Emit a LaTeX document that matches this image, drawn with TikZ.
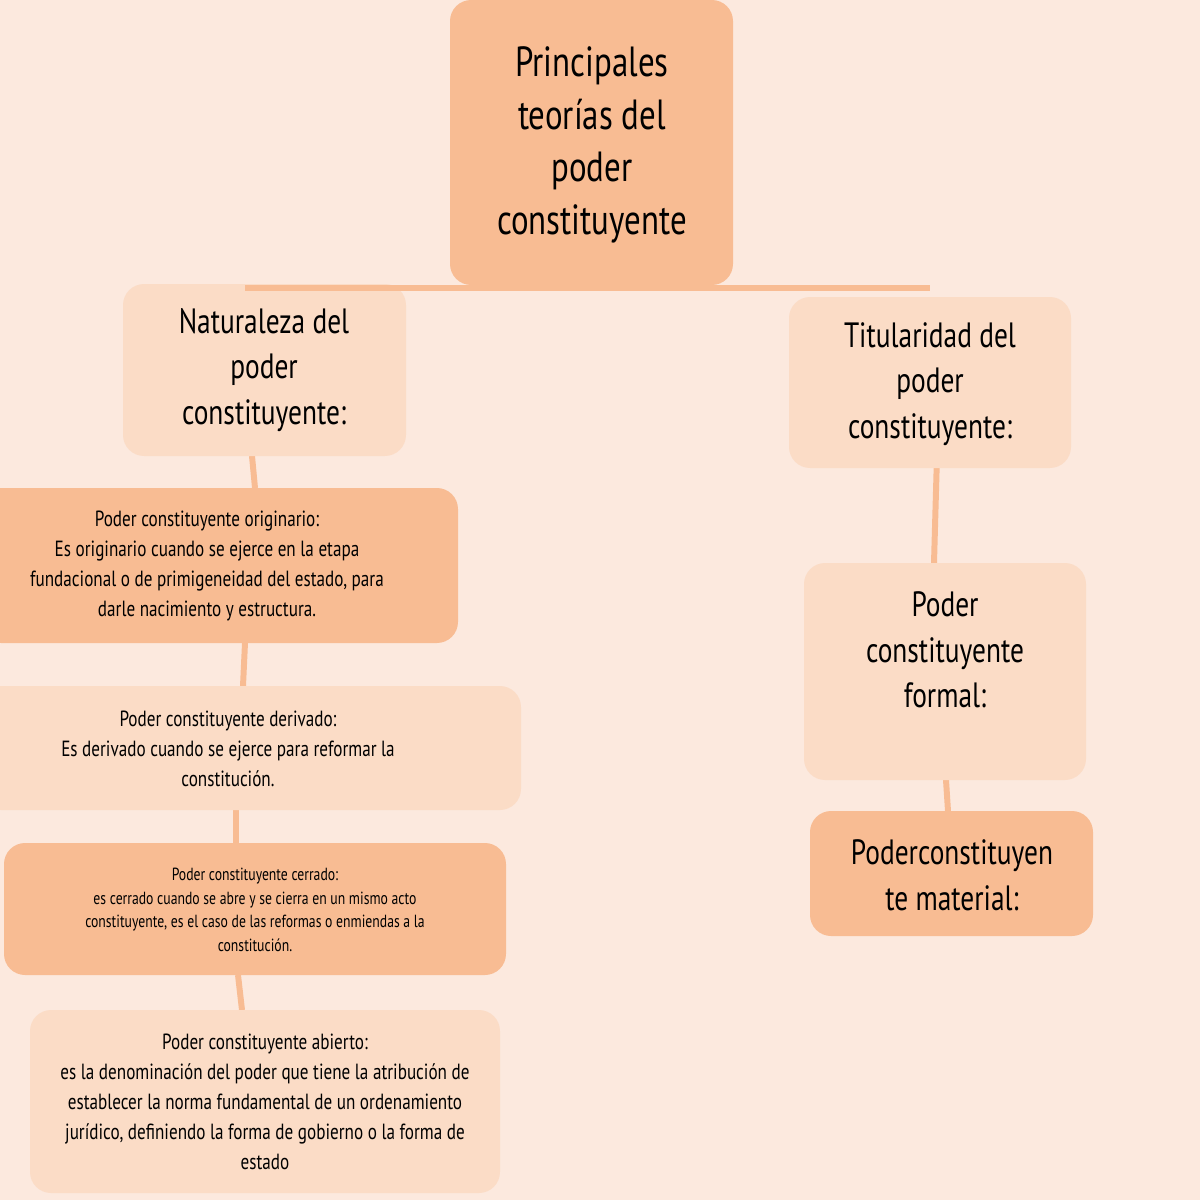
\documentclass[tikz,border=0pt]{standalone}
\usepackage{fontspec}
\setmainfont[FakeStretch=0.78]{PT Sans}
\definecolor{bg}{HTML}{FCE9DE}
\definecolor{dk}{HTML}{F8BC93}
\definecolor{lt}{HTML}{FBDCC6}
\begin{document}
\begin{tikzpicture}[x=0.02cm,y=-0.02cm,
 dkbox/.style={fill=dk,rounded corners=12pt},
 ltbox/.style={fill=lt,rounded corners=12pt},
 con/.style={draw=dk,line width=3.4pt},
 txt/.style={align=center,text=black}]
\fill[bg] (0,0) rectangle (1200,1200);
\useasboundingbox (0,0) rectangle (1200,1200);
\coordinate (a1) at (252,456); \coordinate (a2) at (255,488);
\coordinate (b1) at (245,643); \coordinate (b2) at (243,686);
\coordinate (c1) at (236,810); \coordinate (c2) at (236,843);
\coordinate (d1) at (238,975); \coordinate (d2) at (242,1010);
\coordinate (e1) at (937,455); \coordinate (e2) at (934,563);
\coordinate (f1) at (946,780); \coordinate (f2) at (948,811);
\draw[con] (a1)--(a2); \draw[con] (b1)--(b2); \draw[con] (c1)--(c2);
\draw[con] (d1)--(d2); \draw[con] (e1)--(e2); \draw[con] (f1)--(f2);
\fill[dkbox] (450,0) rectangle (733,285);
\node[txt,font=\fontsize{24}{30}\selectfont] (t) at (592,145) {Principales\\teorías del\\poder\\constituyente};
\fill[ltbox] (123,284) rectangle (406,456);
\node[txt,font=\fontsize{20}{26}\selectfont] (n) at (264,370) {Naturaleza del\\poder\\constituyente:};
\fill[ltbox] (789,297) rectangle (1071,468);
\node[txt,font=\fontsize{20}{26}\selectfont] (ti) at (930,384) {Titularidad del\\poder\\constituyente:};
\coordinate (h1) at (245,288); \coordinate (h2) at (930,288);
\draw[con] (h1) -- (h2);
\fill[dkbox] (-20,488) rectangle (458,643);
\node[txt,font=\fontsize{12.5}{17}\selectfont] (o) at (207,566) {Poder constituyente originario:\\Es originario cuando se ejerce en la etapa\\fundacional o de primigeneidad del estado, para\\darle nacimiento y estructura.};
\fill[ltbox] (-20,686) rectangle (521,810);
\node[txt,font=\fontsize{12.5}{17}\selectfont] (dv) at (228,749) {Poder constituyente derivado:\\Es derivado cuando se ejerce para reformar la\\constitución.};
\fill[dkbox] (4,843) rectangle (506,975);
\node[txt,font=\fontsize{10}{13.5}\selectfont] (ce) at (255,910) {Poder constituyente cerrado:\\es cerrado cuando se abre y se cierra en un mismo acto\\constituyente, es el caso de las reformas o enmiendas a la\\constitución.};
\fill[ltbox] (30,1010) rectangle (500,1193);
\node[txt,font=\fontsize{12.5}{17}\selectfont] (ab) at (265,1102) {Poder constituyente abierto:\\es la denominación del poder que tiene la atribución de\\establecer la norma fundamental de un ordenamiento\\jurídico, definiendo la forma de gobierno o la forma de\\estado};
\fill[ltbox] (804,563) rectangle (1086,780);
\node[txt,font=\fontsize{20}{26}\selectfont] (fo) at (945,650) {Poder\\constituyente\\formal:};
\fill[dkbox] (810,811) rectangle (1093,936);
\node[txt,font=\fontsize{20}{26}\selectfont] (ma) at (952,875) {Poderconstituyen\\te material:};
\end{tikzpicture}
\end{document}
